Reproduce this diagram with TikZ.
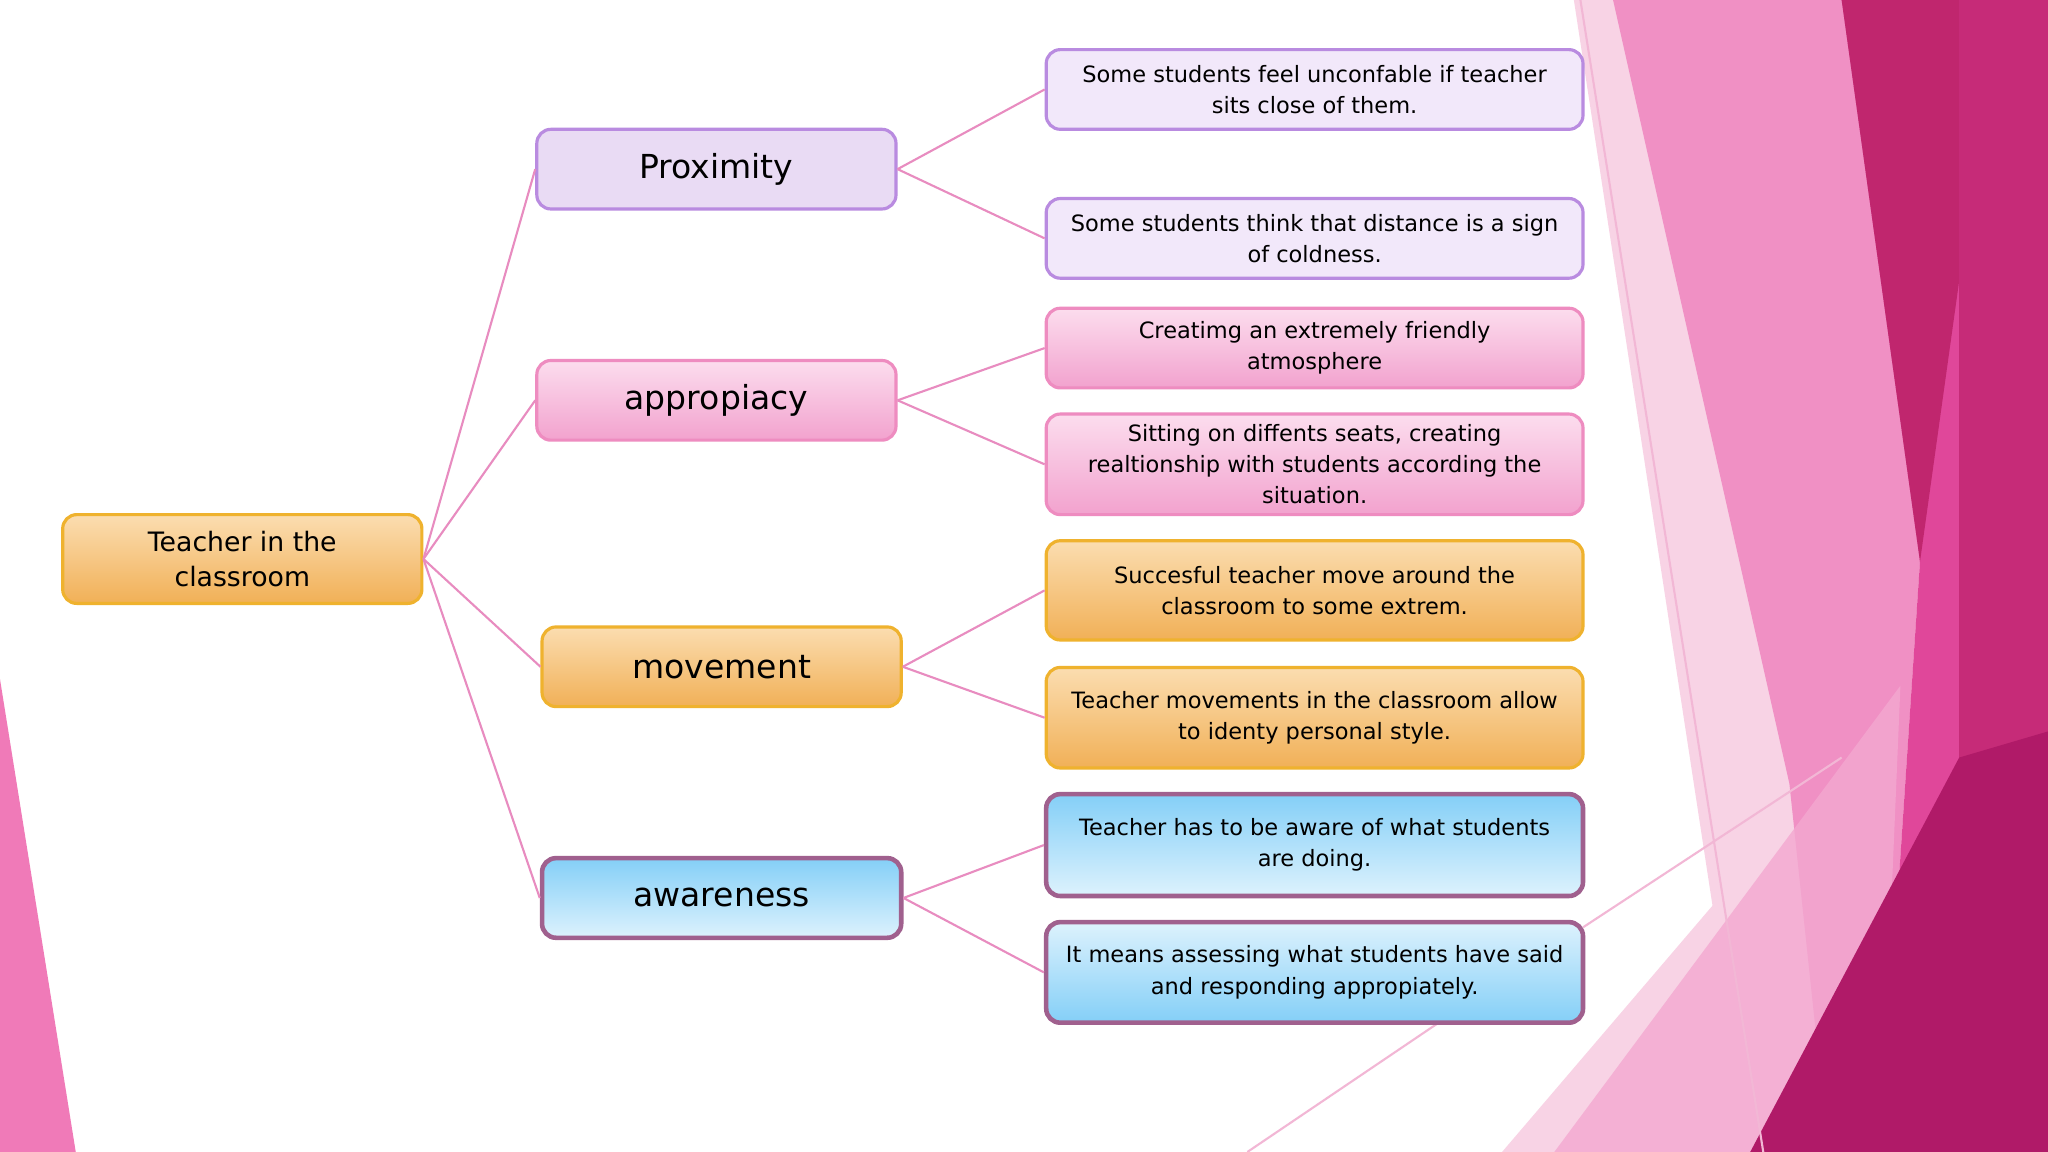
\documentclass[tikz,border=0pt]{standalone}
\usepackage{fontspec}
\setmainfont{DejaVu Sans}
\begin{document}
\begin{tikzpicture}[x=0.013061cm,y=-0.013061cm,
 box/.style={rounded corners=4pt,line width=0.9pt,align=center,inner sep=0pt},
 conn/.style={draw=cn,line width=0.6pt},
 leaf/.style={font=\fontsize{6.4}{8.9}\selectfont},
 mid/.style={font=\fontsize{9.4}{11}\selectfont}]
\definecolor{lavF}{HTML}{E9DBF4}\definecolor{lavB}{HTML}{B98BE0}\definecolor{lavL}{HTML}{F2E8FA}
\definecolor{pkT}{HTML}{FCDDEE}\definecolor{pkB}{HTML}{F2A2CE}\definecolor{pkD}{HTML}{EE8CC0}
\definecolor{orT}{HTML}{FBDDB0}\definecolor{orB}{HTML}{F1B057}\definecolor{orD}{HTML}{EFB22E}
\definecolor{blD}{HTML}{84CFF7}\definecolor{blL}{HTML}{DDF2FD}\definecolor{blE}{HTML}{A0608E}
\definecolor{cn}{HTML}{E88CC0}
\definecolor{bgA}{HTML}{F8D3E5}\definecolor{bgB}{HTML}{F090C4}\definecolor{bgC}{HTML}{F3A8D0}
\definecolor{bgD}{HTML}{E0479A}\definecolor{bgE}{HTML}{C0266E}\definecolor{bgF}{HTML}{C62B78}
\definecolor{bgG}{HTML}{B01A68}\definecolor{bgH}{HTML}{F07AB8}\definecolor{bgL}{HTML}{F2B7D5}
\useasboundingbox (0,0) rectangle (1568,882);
\fill[white] (0,0) rectangle (1568,882);
% background
\fill[bgA] (1205,0)--(1568,0)--(1568,882)--(1340,882)--cycle;
\fill[bgA] (1150,882)--(1455,525)--(1568,500)--(1568,882)--cycle;
\fill[bgB] (1235,0)--(1410,0)--(1470,430)--(1440,882)--(1400,882)--(1370,600)--cycle;
\fill[bgC,opacity=0.8] (1190,882)--(1455,525)--(1440,882)--cycle;
\fill[bgD] (1410,0)--(1568,0)--(1568,882)--(1440,882)--(1470,430)--cycle;
\fill[bgE] (1410,0)--(1530,0)--(1470,430)--cycle;
\fill[bgF] (1500,0)--(1568,0)--(1568,882)--(1500,882)--cycle;
\fill[bgG] (1340,882)--(1500,580)--(1568,560)--(1568,882)--cycle;
\fill[bgH] (0,520)--(58,882)--(0,882)--cycle;
\draw[bgL,line width=0.6pt] (1210,0)--(1350,882);
\draw[bgL,line width=0.6pt] (955,882)--(1100,784);
\draw[bgL,line width=0.6pt] (1212,710)--(1410,580);
% nodes
\node[box,draw=orD,top color=orT,bottom color=orB,minimum width=275*0.013061cm,minimum height=68*0.013061cm,font=\fontsize{7.6}{10}\selectfont] (root) at (185.5,428) {Teacher in the\\classroom};
\node[box,mid,draw=lavB,fill=lavF,minimum width=275*0.013061cm,minimum height=61*0.013061cm] (m1) at (548.5,129.5) {Proximity};
\node[box,mid,draw=pkD,top color=pkT,bottom color=pkB,minimum width=275*0.013061cm,minimum height=61*0.013061cm] (m2) at (548.5,306.5) {appropiacy};
\node[box,mid,draw=orD,top color=orT,bottom color=orB,minimum width=275*0.013061cm,minimum height=61*0.013061cm] (m3) at (552.5,510.5) {movement};
\node[box,mid,draw=blE,top color=blD,bottom color=blL,line width=1.3pt,minimum width=275*0.013061cm,minimum height=61*0.013061cm] (m4) at (552.5,687.5) {awareness};
\tikzset{lf/.style={box,leaf,minimum width=411*0.013061cm}}
\node[lf,draw=lavB,fill=lavL,minimum height=61*0.013061cm] (l1) at (1006.5,68.5) {Some students feel unconfable if teacher\\sits close of them.};
\node[lf,draw=lavB,fill=lavL,minimum height=61*0.013061cm] (l2) at (1006.5,182.5) {Some students think that distance is a sign\\of coldness.};
\node[lf,draw=pkD,top color=pkT,bottom color=pkB,minimum height=61*0.013061cm] (l3) at (1006.5,266.5) {Creatimg an extremely friendly\\atmosphere};
\node[lf,draw=pkD,top color=pkT,bottom color=pkB,minimum height=77*0.013061cm] (l4) at (1006.5,355.5) {Sitting on diffents seats, creating\\realtionship with students according the\\situation.};
\node[lf,draw=orD,top color=orT,bottom color=orB,minimum height=76*0.013061cm] (l5) at (1006.5,452) {Succesful teacher move around the\\classroom to some extrem.};
\node[lf,draw=orD,top color=orT,bottom color=orB,minimum height=77*0.013061cm] (l6) at (1006.5,549.5) {Teacher movements in the classroom allow\\to identy personal style.};
\node[lf,draw=blE,top color=blD,bottom color=blL,line width=1.3pt,minimum height=78*0.013061cm] (l7) at (1006.5,647) {Teacher has to be aware of what students\\are doing.};
\node[lf,draw=blE,top color=blL,bottom color=blD,line width=1.3pt,minimum height=77*0.013061cm] (l8) at (1006.5,744.5) {It means assessing what students have said\\and responding appropiately.};
% connectors
\foreach \m in {m1,m2,m3,m4} \draw[conn] (root.east)--(\m.west);
\draw[conn] (m1.east)--(l1.west); \draw[conn] (m1.east)--(l2.west);
\draw[conn] (m2.east)--(l3.west); \draw[conn] (m2.east)--(l4.west);
\draw[conn] (m3.east)--(l5.west); \draw[conn] (m3.east)--(l6.west);
\draw[conn] (m4.east)--(l7.west); \draw[conn] (m4.east)--(l8.west);
\end{tikzpicture}
\end{document}
